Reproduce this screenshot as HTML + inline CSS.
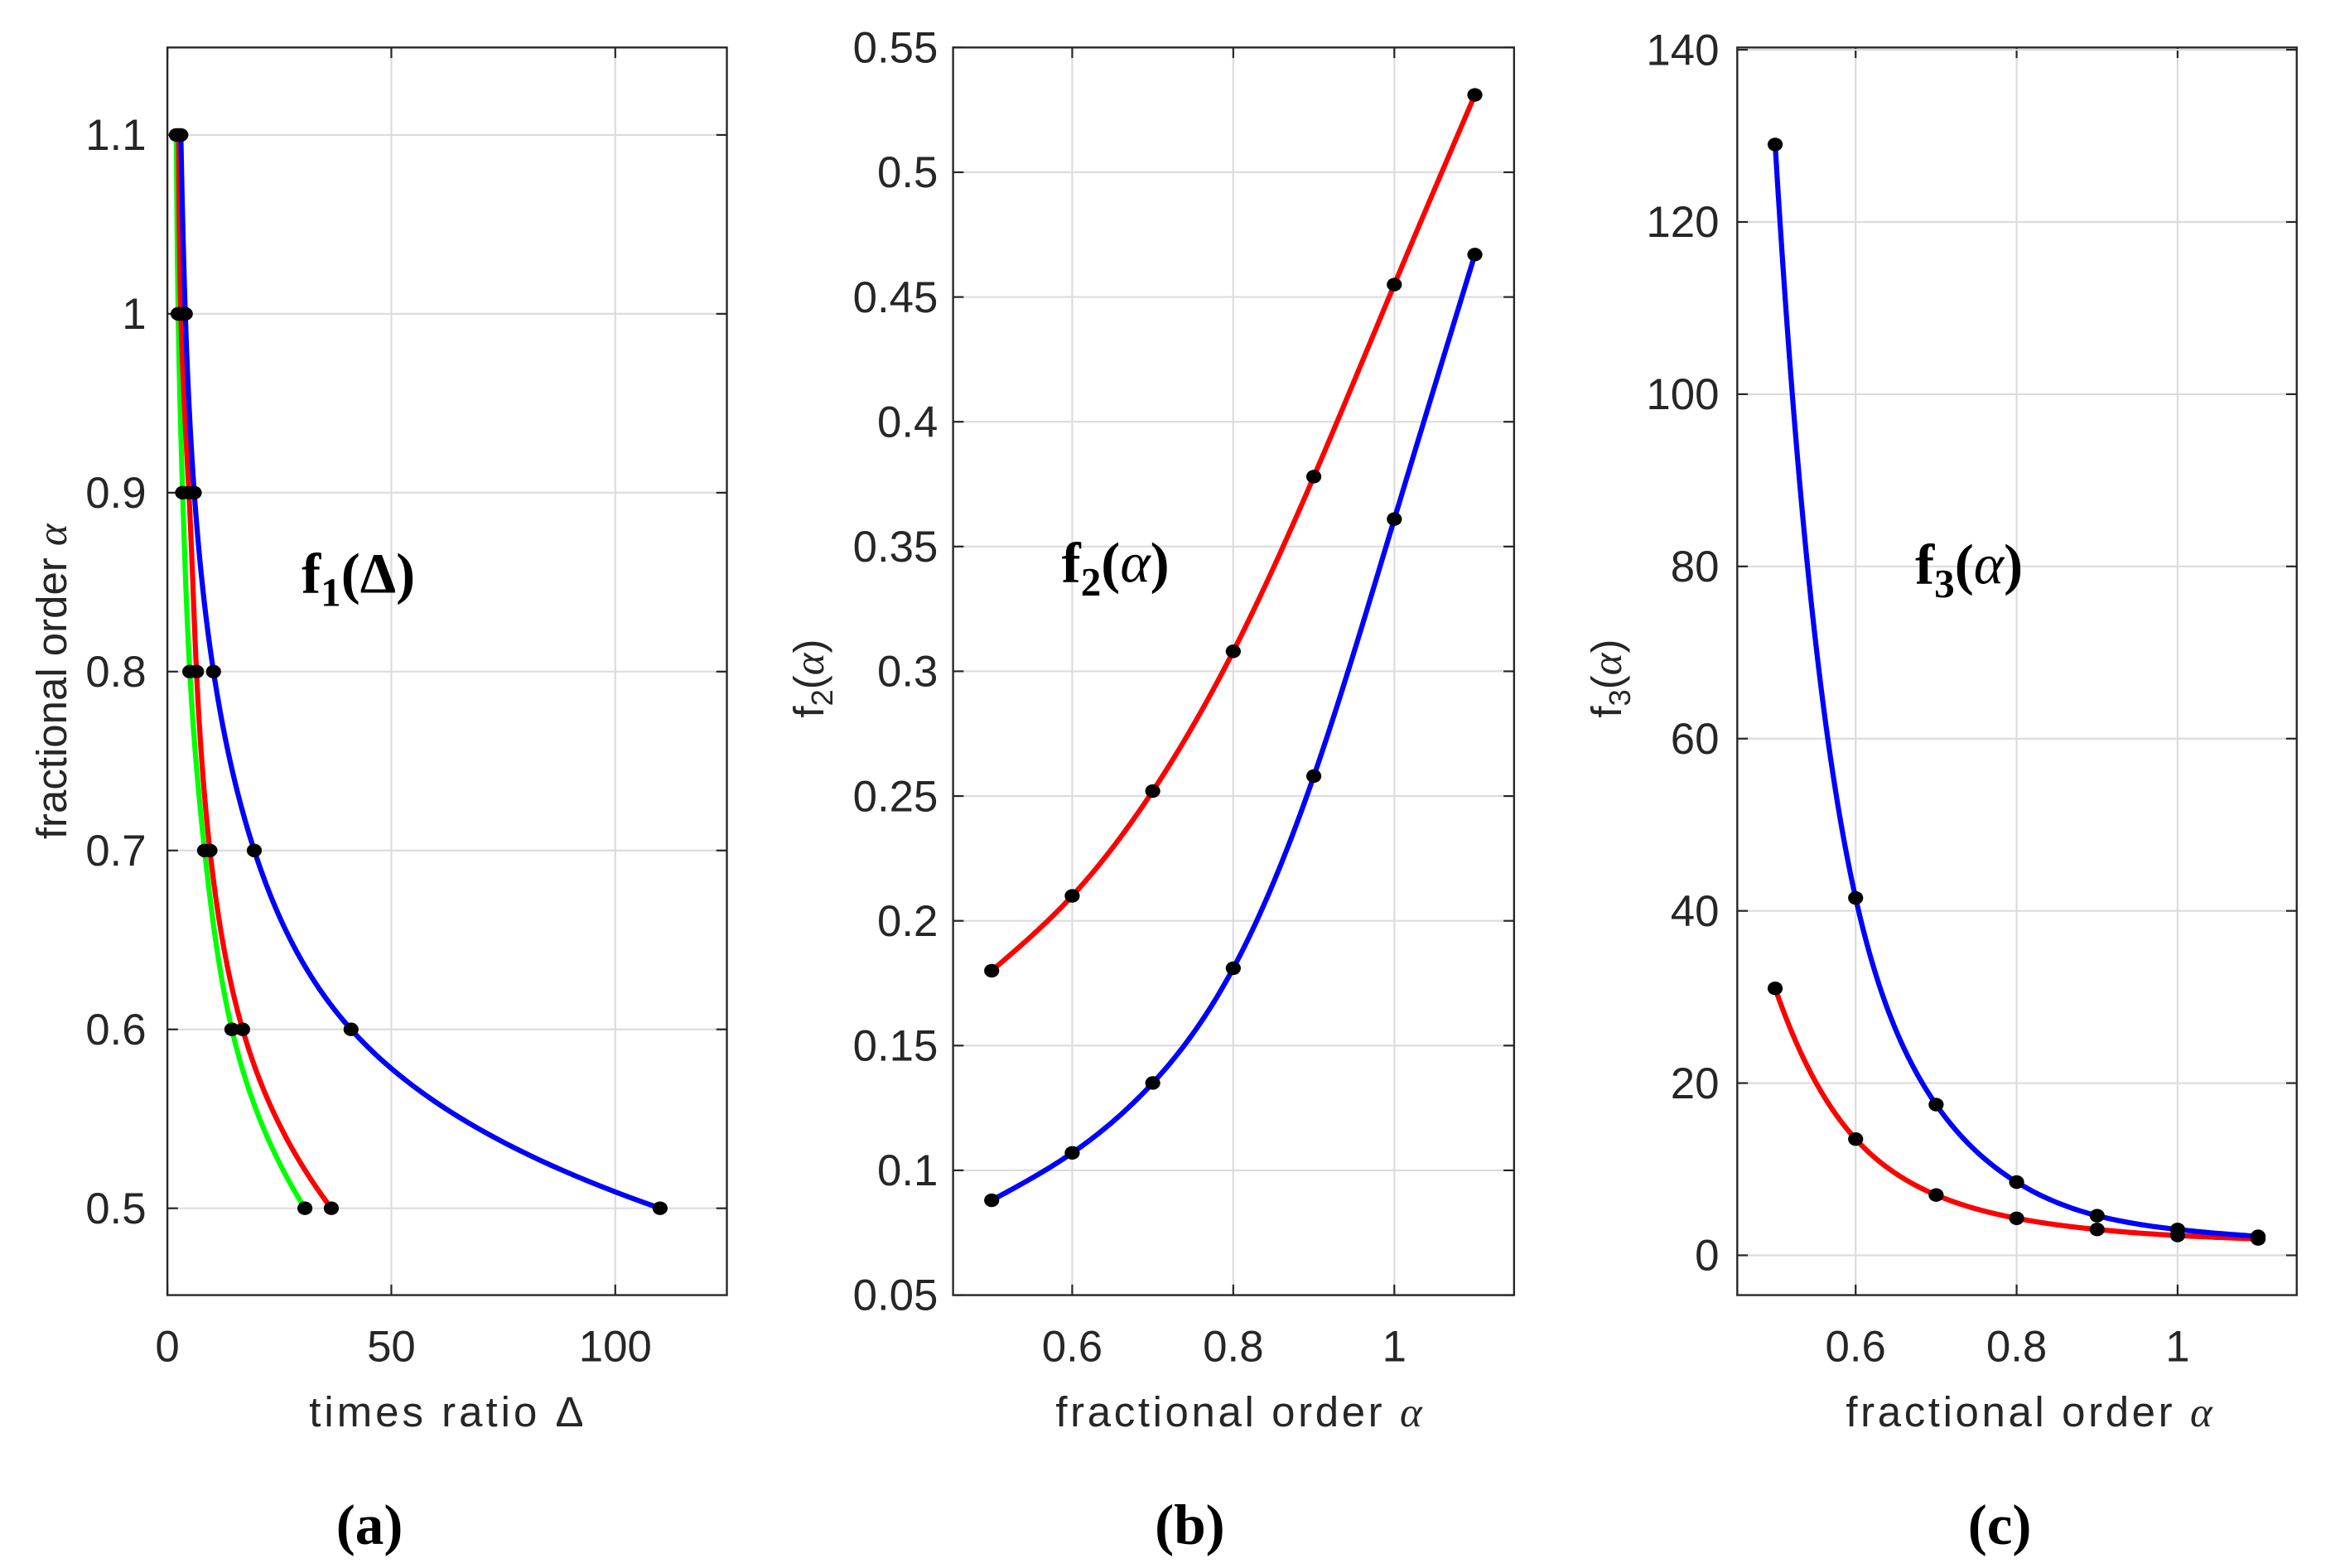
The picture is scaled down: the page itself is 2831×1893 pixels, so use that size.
<!DOCTYPE html>
<html><head><meta charset="utf-8"><style>
html,body{margin:0;padding:0;background:#fff;}
svg{display:block;}
text{font-family:"Liberation Sans",sans-serif;fill:#262626;}
.t{font-family:"Liberation Serif",serif;font-weight:bold;fill:#000;}
</style></head><body>
<svg id="fig" width="2831" height="1893" viewBox="0 0 1555 1040" preserveAspectRatio="none" xmlns="http://www.w3.org/2000/svg"></svg>
<script>
// Panel (a) data
const alphaA = [1.1, 1.0, 0.9, 0.8, 0.7, 0.6, 0.5];
const blueA = [3, 4, 6, 10.3, 19.4, 41, 110];
const redA = [2.5, 3, 4.8, 6.5, 9.5, 16.8, 36.6];
const greenA = [2, 2.4, 3.4, 5, 8.3, 14.4, 30.7];
const xTicksA = [0, 50, 100];
const yTicksA = [0.5, 0.6, 0.7, 0.8, 0.9, 1, 1.1];
// Panel (b) data
const alphaB = [0.5, 0.6, 0.7, 0.8, 0.9, 1.0, 1.1];
const redB = [0.18, 0.21, 0.252, 0.308, 0.378, 0.455, 0.531];
const blueB = [0.088, 0.107, 0.135, 0.181, 0.258, 0.361, 0.467];
const xTicksB = [0.6, 0.8, 1];
const yTicksB = [0.05, 0.1, 0.15, 0.2, 0.25, 0.3, 0.35, 0.4, 0.45, 0.5, 0.55];
// Panel (c) data
const alphaC = [0.5, 0.6, 0.7, 0.8, 0.9, 1.0, 1.1];
const blueC = [129, 41.5, 17.5, 8.5, 4.6, 3, 2.2];
const redC = [31, 13.5, 7, 4.3, 3, 2.3, 1.9];
const xTicksC = [0.6, 0.8, 1];
const yTicksC = [0, 20, 40, 60, 80, 100, 120, 140];

const NS = "http://www.w3.org/2000/svg";
const svg = document.getElementById('fig');
function mk(tag, attrs, parent) {
  const e = document.createElementNS(NS, tag);
  for (const k in attrs) e.setAttribute(k, attrs[k]);
  (parent || svg).appendChild(e);
  return e;
}
function lin(d0, d1, r0, r1) { return v => r0 + (v - d0) * (r1 - r0) / (d1 - d0); }
function spline(t, v) {
  const n = t.length, h = [], a = [], l = [1], mu = [0], z = [0], c = new Array(n).fill(0), b = [], d = [];
  for (let i = 0; i < n - 1; i++) h.push(t[i + 1] - t[i]);
  for (let i = 1; i < n - 1; i++) a[i] = 3 / h[i] * (v[i + 1] - v[i]) - 3 / h[i - 1] * (v[i] - v[i - 1]);
  for (let i = 1; i < n - 1; i++) {
    l[i] = 2 * (t[i + 1] - t[i - 1]) - h[i - 1] * mu[i - 1];
    mu[i] = h[i] / l[i];
    z[i] = (a[i] - h[i - 1] * z[i - 1]) / l[i];
  }
  for (let j = n - 2; j >= 0; j--) {
    c[j] = (z[j] || 0) - (mu[j] || 0) * c[j + 1];
    b[j] = (v[j + 1] - v[j]) / h[j] - h[j] * (c[j + 1] + 2 * c[j]) / 3;
    d[j] = (c[j + 1] - c[j]) / (3 * h[j]);
  }
  return x => {
    let i = 0;
    while (i < n - 2 && x > t[i + 1]) i++;
    const dx = x - t[i];
    return v[i] + b[i] * dx + c[i] * dx * dx + d[i] * dx * dx * dx;
  };
}
const TOP = 31.5, BOT = 859;

function panel(cfg) {
  const g = mk('g', {});
  
  
  const L = cfg.L, R = cfg.R;
  cfg.xTicks.forEach(t => {
    const x = cfg.sx(t);
    const gl = mk('line', {x1: x, x2: x, y1: TOP, y2: BOT, stroke: '#dcdcdc', 'stroke-width': 1.2}, g);
    
    
    mk('line', {x1: x, x2: x, y1: BOT, y2: BOT - 7, stroke: '#262626', 'stroke-width': 1.2}, g);
    mk('line', {x1: x, x2: x, y1: TOP, y2: TOP + 7, stroke: '#262626', 'stroke-width': 1.2}, g);
    const tx = mk('text', {x: x, y: 903, 'font-size': 29, 'text-anchor': 'middle'}, g);
    tx.textContent = String(t);
    
    
  });
  cfg.yTicks.forEach(t => {
    const y = cfg.sy(t);
    const gl = mk('line', {x1: L, x2: R, y1: y, y2: y, stroke: '#dcdcdc', 'stroke-width': 1.2}, g);
    
    
    mk('line', {x1: L, x2: L + 7, y1: y, y2: y, stroke: '#262626', 'stroke-width': 1.2}, g);
    mk('line', {x1: R, x2: R - 7, y1: y, y2: y, stroke: '#262626', 'stroke-width': 1.2}, g);
    const tx = mk('text', {x: cfg.yLabX, y: y + 10, 'font-size': 29, 'text-anchor': 'end'}, g);
    tx.textContent = String(t);
    
    
  });
  cfg.series.forEach(s => {
    const al = s.alpha.slice(), vv = s.vals.slice();
    const idx = al.map((_, i) => i).sort((i, j) => al[i] - al[j]);
    const ts = idx.map(i => al[i]), vs = idx.map(i => s.fwd(vv[i]));
    const f = spline(ts, vs);
    const pts = [];
    const a0 = ts[0], a1 = ts[ts.length - 1];
    for (let k = 0; k <= 200; k++) {
      const a = a0 + (a1 - a0) * k / 200;
      const val = s.inv(f(a));
      pts.push(cfg.swap ? [cfg.sx(val), cfg.sy(a)] : [cfg.sx(a), cfg.sy(val)]);
    }
    const p = mk('path', {d: 'M' + pts.map(q => q[0].toFixed(2) + ',' + q[1].toFixed(2)).join(' L'), fill: 'none', stroke: s.color, 'stroke-width': 3.4, 'stroke-linejoin': 'round'}, g);
    
    
  });
  cfg.series.forEach(s => {
    s.alpha.forEach((a, i) => {
      const v = s.vals[i];
      const cx = cfg.swap ? cfg.sx(v) : cfg.sx(a), cy = cfg.swap ? cfg.sy(a) : cfg.sy(v);
      const c = mk('ellipse', {cx: cx, cy: cy, rx: 5, ry: 4.5, fill: '#000'}, g);
      
      
    });
  });
  const fr = mk('rect', {x: L, y: TOP, width: R - L, height: BOT - TOP, fill: 'none', stroke: '#262626', 'stroke-width': 1.3}, g);
  
  
}
const LOG = {fwd: Math.log, inv: Math.exp};
const ID = {fwd: v => v, inv: v => v};

const sxA = lin(0, 50, 111, 259.5), syA = lin(0.5, 1.1, 801.4, 89.5);
panel({name: 'panel-a', L: 111, R: 482, sx: sxA, sy: syA, swap: true, xTicks: xTicksA, yTicks: yTicksA, yLabX: 97,
  series: [
    Object.assign({name: 'green-curve', color: '#00ff00', alpha: alphaA, vals: greenA}, LOG),
    Object.assign({name: 'red-curve', color: '#ff0000', alpha: alphaA, vals: redA}, LOG),
    Object.assign({name: 'blue-curve', color: '#0000ff', alpha: alphaA, vals: blueA}, LOG)
  ]});
const sxB = lin(0.6, 1.0, 711, 924.6), syB = lin(0.05, 0.55, 859, 31.5);
panel({name: 'panel-b', L: 632, R: 1004, sx: sxB, sy: syB, xTicks: xTicksB, yTicks: yTicksB, yLabX: 622,
  series: [
    Object.assign({name: 'red-curve', color: '#ff0000', alpha: alphaB, vals: redB}, ID),
    Object.assign({name: 'blue-curve', color: '#0000ff', alpha: alphaB, vals: blueB}, ID)
  ]});
const sxC = lin(0.6, 1.0, 1230.5, 1444), syC = lin(0, 140, 832.6, 33);
panel({name: 'panel-c', L: 1152, R: 1523, sx: sxC, sy: syC, xTicks: xTicksC, yTicks: yTicksC, yLabX: 1140,
  series: [
    Object.assign({name: 'red-curve', color: '#ff0000', alpha: alphaC, vals: redC}, LOG),
    Object.assign({name: 'blue-curve', color: '#0000ff', alpha: alphaC, vals: blueC}, LOG)
  ]});
</script>
<svg style="position:absolute;left:0;top:0" width="2831" height="1893" viewBox="0 0 1555 1040" preserveAspectRatio="none" xmlns="http://www.w3.org/2000/svg">
  <text x="205" y="946" font-size="28" textLength="182" lengthAdjust="spacing">times ratio Δ</text>
  <text transform="translate(44,452) rotate(-90)" font-size="28" text-anchor="middle">fractional order <tspan font-family="Liberation Serif" font-style="italic">α</tspan></text>
  <text x="700" y="946" font-size="28" textLength="243" lengthAdjust="spacing">fractional order <tspan font-family="Liberation Serif" font-style="italic">α</tspan></text>
  <text transform="translate(546,450) rotate(-90)" font-size="28" text-anchor="middle">f<tspan font-size="20" dy="6">2</tspan><tspan dy="-6">(</tspan><tspan font-family="Liberation Serif" font-style="italic">α</tspan>)</text>
  <text x="1224" y="946" font-size="28" textLength="243" lengthAdjust="spacing">fractional order <tspan font-family="Liberation Serif" font-style="italic">α</tspan></text>
  <text transform="translate(1075,450) rotate(-90)" font-size="28" text-anchor="middle">f<tspan font-size="20" dy="6">3</tspan><tspan dy="-6">(</tspan><tspan font-family="Liberation Serif" font-style="italic">α</tspan>)</text>
  <text class="t" x="200" y="393" font-size="38">f<tspan font-size="27" dy="9">1</tspan><tspan dy="-9">(Δ)</tspan></text>
  <text class="t" x="704" y="386" font-size="38">f<tspan font-size="27" dy="9">2</tspan><tspan dy="-9">(</tspan><tspan font-style="italic" font-weight="normal">α</tspan>)</text>
  <text class="t" x="1270" y="387" font-size="38">f<tspan font-size="27" dy="9">3</tspan><tspan dy="-9">(</tspan><tspan font-style="italic" font-weight="normal">α</tspan>)</text>
  <text class="t" x="245" y="1024" font-size="38" text-anchor="middle">(a)</text>
  <text class="t" x="789" y="1024" font-size="38" text-anchor="middle">(b)</text>
  <text class="t" x="1326" y="1024" font-size="38" text-anchor="middle">(c)</text>
</svg>
</body></html>
